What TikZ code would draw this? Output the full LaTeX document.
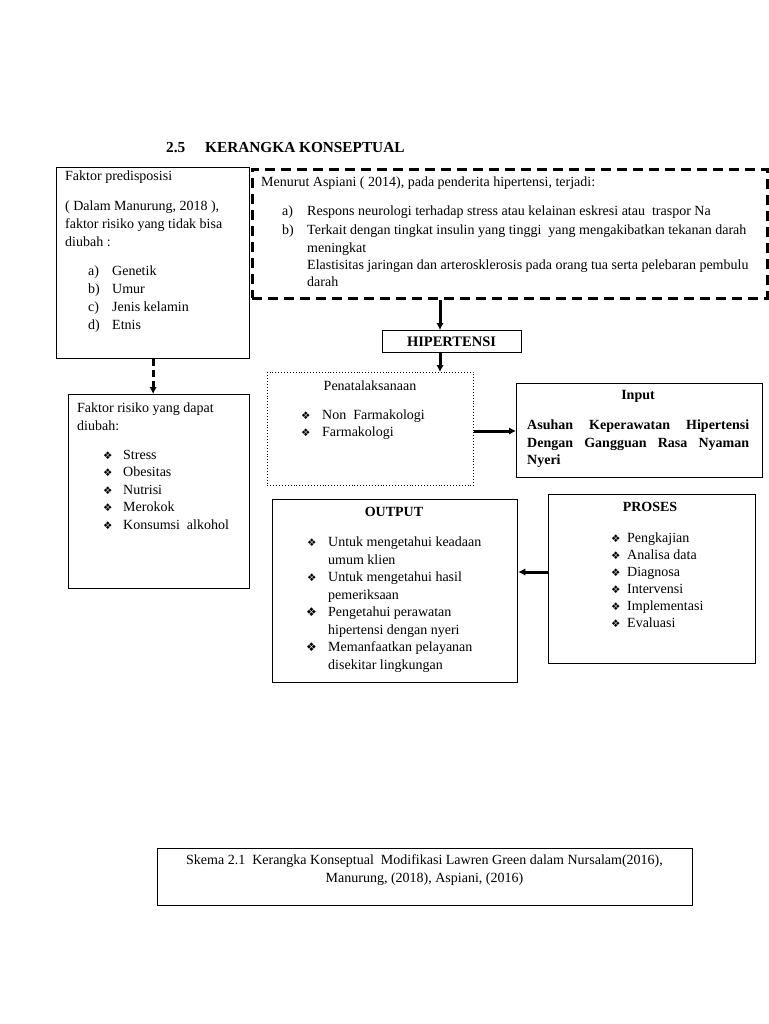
\documentclass[tikz,border=0pt]{standalone}
\usepackage{fontspec}
\setmainfont{Liberation Serif}
\newfontfamily\symfont{DejaVu Sans}
\usetikzlibrary{arrows.meta}
\newcommand{\dia}{{\symfont\fontsize{10.5}{10.5}\selectfont ❖}}
\newcommand{\diab}{{\symfont\fontsize{12}{12}\selectfont ❖}}
\begin{document}
\begin{tikzpicture}[x=1pt,y=-1pt,
  font=\fontsize{14}{17.7}\selectfont,
  txt/.style={anchor=base west, inner sep=0pt},
  ctxt/.style={anchor=base, inner sep=0pt},
  box/.style={draw, line width=1.3pt, anchor=north west, inner sep=0pt},
  dashbox/.style={draw, line width=2.8pt, dash pattern=on 10pt off 6pt, anchor=north west, inner sep=0pt},
  dotbox/.style={draw, line width=0.9pt, dotted, anchor=north west, inner sep=0pt},
  arr/.style={line width=3pt, -{Latex[length=7pt,width=7.5pt]}},
  darr/.style={arr, dash pattern=on 7pt off 4pt}
]
\useasboundingbox[fill=white] (0,0) rectangle (768,1024);

% title
\node[txt, font=\fontsize{15.3}{17}\selectfont\bfseries] (t0a) at (166,153) {2.5};
\node[txt, font=\fontsize{15.3}{17}\selectfont\bfseries] (t0b) at (205,153) {KERANGKA KONSEPTUAL};

% boxes
\node[box, minimum width=193pt, minimum height=191pt] (b1) at (56,167) {};
\node[dashbox, minimum width=515pt, minimum height=129pt] (dsh) at (251,168) {};
\node[box, line width=1pt, minimum width=139pt, minimum height=22pt] (hip) at (382,330) {};
\node[dotbox, minimum width=206pt, minimum height=113pt] (pen) at (267,372) {};
\node[box, minimum width=246pt, minimum height=94pt] (inp) at (516,383) {};
\node[box, minimum width=181pt, minimum height=194pt] (b2) at (68,394) {};
\node[box, minimum width=245pt, minimum height=183pt] (out) at (272,499) {};
\node[box, minimum width=207pt, minimum height=169pt] (pro) at (548,494) {};
\node[box, minimum width=535pt, minimum height=57pt] (cap) at (157,848) {};

% box 1 text
\node[txt] (a1) at (65,181) {Faktor predisposisi};
\node[txt] (a2) at (65,211) {( Dalam Manurung, 2018 ),};
\node[txt] (a3) at (65,229) {faktor risiko yang tidak bisa};
\node[txt] (a4) at (65,247) {diubah :};
\node[txt] (a5l) at (88,275) {a)}; \node[txt] (a5) at (112,275) {Genetik};
\node[txt] (a6l) at (88,293) {b)}; \node[txt] (a6) at (112,293) {Umur};
\node[txt] (a7l) at (88,311) {c)}; \node[txt] (a7) at (112,311) {Jenis kelamin};
\node[txt] (a8l) at (88,329) {d)}; \node[txt] (a8) at (112,329) {Etnis};

% dashed box text
\node[txt] (m1) at (261,187) {Menurut Aspiani ( 2014), pada penderita hipertensi, terjadi:};
\node[txt] (m2l) at (282,216) {a)}; \node[txt] (m2) at (307,216) {Respons neurologi terhadap stress atau kelainan eskresi atau\ \ traspor Na};
\node[txt] (m3l) at (282,234) {b)}; \node[txt] (m3) at (307,234) {Terkait dengan tingkat insulin yang tinggi\ \ yang mengakibatkan tekanan darah};
\node[txt] (m4) at (307,252) {meningkat};
\node[txt] (m5) at (307,269) {Elastisitas jaringan dan arterosklerosis pada orang tua serta pelebaran pembulu};
\node[txt] (m6) at (307,286) {darah};

% hipertensi
\node[ctxt, font=\fontsize{14.5}{17}\selectfont\bfseries] (h1) at (451.5,346) {HIPERTENSI};

% penatalaksanaan
\node[ctxt] (p1) at (370,390) {Penatalaksanaan};
\node[txt] (p2b) at (301,419) {\dia}; \node[txt] (p2) at (322,419) {Non\ \ Farmakologi};
\node[txt] (p3b) at (301,436) {\dia}; \node[txt] (p3) at (322,436) {Farmakologi};

% input
\node[ctxt, font=\fontsize{14}{17}\selectfont\bfseries] (i1) at (638,399) {Input};
\node[txt, font=\fontsize{14}{17}\selectfont\bfseries] (i2) at (527,429) {\makebox[222pt][s]{Asuhan Keperawatan Hipertensi}};
\node[txt, font=\fontsize{14}{17}\selectfont\bfseries] (i3) at (527,447) {\makebox[222pt][s]{Dengan Gangguan Rasa Nyaman}};
\node[txt, font=\fontsize{14}{17}\selectfont\bfseries] (i4) at (527,464) {Nyeri};

% box 2 text
\node[txt] (c1) at (77,412) {Faktor risiko yang dapat};
\node[txt] (c2) at (77,430) {diubah:};
\node[txt] (c3b) at (103,459) {\dia}; \node[txt] (c3) at (123,459) {Stress};
\node[txt] (c4b) at (103,476) {\dia}; \node[txt] (c4) at (123,476) {Obesitas};
\node[txt] (c5b) at (103,494) {\dia}; \node[txt] (c5) at (123,494) {Nutrisi};
\node[txt] (c6b) at (103,511) {\dia}; \node[txt] (c6) at (123,511) {Merokok};
\node[txt] (c7b) at (103,529) {\dia}; \node[txt] (c7) at (123,529) {Konsumsi\ \ alkohol};

% output
\node[ctxt, font=\fontsize{14}{17}\selectfont\bfseries] (o0) at (394,516) {OUTPUT};
\node[txt] (o1b) at (307,546) {\dia}; \node[txt] (o1) at (328,546) {Untuk mengetahui keadaan};
\node[txt] (o2) at (328,564) {umum klien};
\node[txt] (o3b) at (307,581) {\dia}; \node[txt] (o3) at (328,581) {Untuk mengetahui hasil};
\node[txt] (o4) at (328,599) {pemeriksaan};
\node[txt] (o5b) at (306,616) {\diab}; \node[txt] (o5) at (328,616) {Pengetahui perawatan};
\node[txt] (o6) at (328,634) {hipertensi dengan nyeri};
\node[txt] (o7b) at (306,651) {\diab}; \node[txt] (o7) at (328,651) {Memanfaatkan pelayanan};
\node[txt] (o8) at (328,669) {disekitar lingkungan};

% proses
\node[ctxt, font=\fontsize{14}{17}\selectfont\bfseries] (r0) at (650,511) {PROSES};
\node[txt] (r1b) at (611,542) {\dia}; \node[txt] (r1) at (627,542) {Pengkajian};
\node[txt] (r2b) at (611,559) {\dia}; \node[txt] (r2) at (627,559) {Analisa data};
\node[txt] (r3b) at (611,576) {\dia}; \node[txt] (r3) at (627,576) {Diagnosa};
\node[txt] (r4b) at (611,593) {\dia}; \node[txt] (r4) at (627,593) {Intervensi};
\node[txt] (r5b) at (611,610) {\dia}; \node[txt] (r5) at (627,610) {Implementasi};
\node[txt] (r6b) at (611,627) {\dia}; \node[txt] (r6) at (627,627) {Evaluasi};

% caption
\node[ctxt] (k1) at (424.5,864) {Skema 2.1\ \ Kerangka Konseptual\ \ Modifikasi Lawren Green dalam Nursalam(2016),};
\node[ctxt] (k2) at (424.5,882) {Manurung, (2018), Aspiani, (2016)};

% connectors
\coordinate (ax) at (440,0);
\coordinate (ay) at (0,431);
\coordinate (by) at (0,572);
\draw[darr] (b1.south) -- (b1.south |- b2.north);
\draw[arr] (dsh.south -| ax) -- (hip.north -| ax);
\draw[arr] (hip.south -| ax) -- (pen.north -| ax);
\draw[arr] (pen.east |- ay) -- (inp.west |- ay);
\draw[arr] (pro.west |- by) -- (out.east |- by);
\end{tikzpicture}
\end{document}
